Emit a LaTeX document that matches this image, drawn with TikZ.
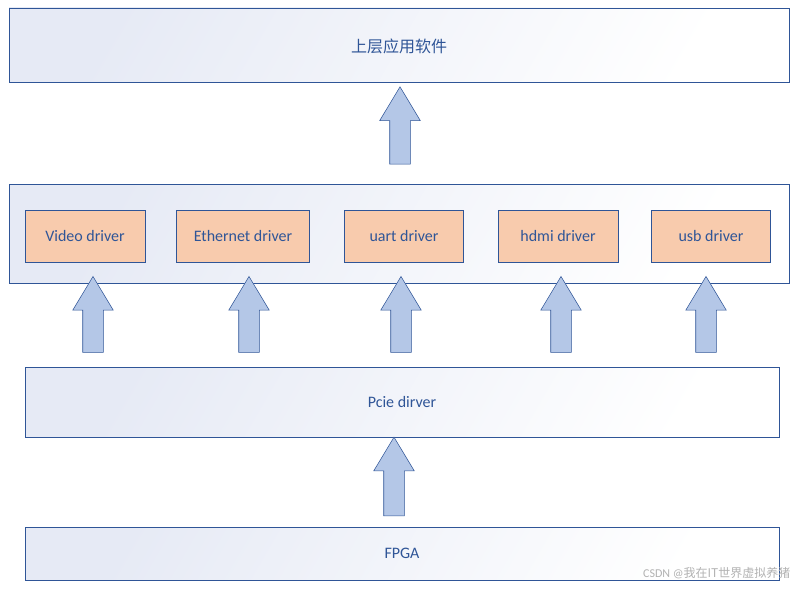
\documentclass[tikz,border=0pt]{standalone}
\usepackage{fontspec}
\setmainfont{Carlito}
\newfontfamily\cjk{Noto Sans CJK SC}
\usetikzlibrary{shapes.arrows}
\definecolor{lineblue}{HTML}{2F5597}
\definecolor{arrowfill}{HTML}{B4C7E7}
\definecolor{drvfill}{HTML}{F8CBAD}
\definecolor{boxtint}{HTML}{E6EAF5}

\begin{document}
\begin{tikzpicture}[x=0.75pt,y=-0.75pt,font=\fontsize{12}{14}\selectfont,
                    text=lineblue]

  \tikzset{layer/.style={draw=lineblue,thin,left color=boxtint,right color=white,
                         shading angle=60},
           drv/.style={draw=lineblue,thin,fill=drvfill,minimum height=39pt},
           up/.style={single arrow,draw=lineblue,fill=arrowfill,thin,rotate=90,
                      inner xsep=0pt,inner ysep=7.5pt,minimum width=30pt,
                      single arrow head extend=7.5pt,
                      single arrow tip angle=62,single arrow head indent=0pt}}

  \useasboundingbox (0,0) rectangle (798,588);

  % layers
  \path[layer] (9,8) rectangle (789,82);
  \node (app) at (399,46) {\cjk 上层应用软件};
  \path[layer] (9,184) rectangle (789,283);
  \path[layer] (25,367) rectangle (779,437);
  \node (pcie) at (402,402) {Pcie dirver};
  \path[layer] (25,527) rectangle (779,580);
  \node (fpga) at (402,553) {FPGA};

  % drivers
  \node[drv,minimum width=90pt]  (video) at (85,236)  {Video driver};
  \node[drv,minimum width=100pt] (eth)   at (243,236) {Ethernet driver};
  \node[drv,minimum width=89pt]  (uart)  at (404,236) {uart driver};
  \node[drv,minimum width=90pt]  (hdmi)  at (558,236) {hdmi driver};
  \node[drv,minimum width=89pt]  (usb)   at (711,236) {usb driver};

  % arrows
  \node[up,minimum height=58pt] (a0) at (400,134) {};
  \foreach \x/\n in {93/a1,249/a2,401/a3,561/a4,706/a5}
    \node[up,minimum height=57pt] (\n) at (\x,323) {};
  \node[up,minimum height=59pt] (a6) at (394,485) {};

  \node[text=gray!60,font=\fontsize{9}{10}\selectfont,anchor=east] (mark) at (795,573)
    {CSDN @{\cjk 我在IT世界虚拟养猪}};
\end{tikzpicture}
\end{document}
